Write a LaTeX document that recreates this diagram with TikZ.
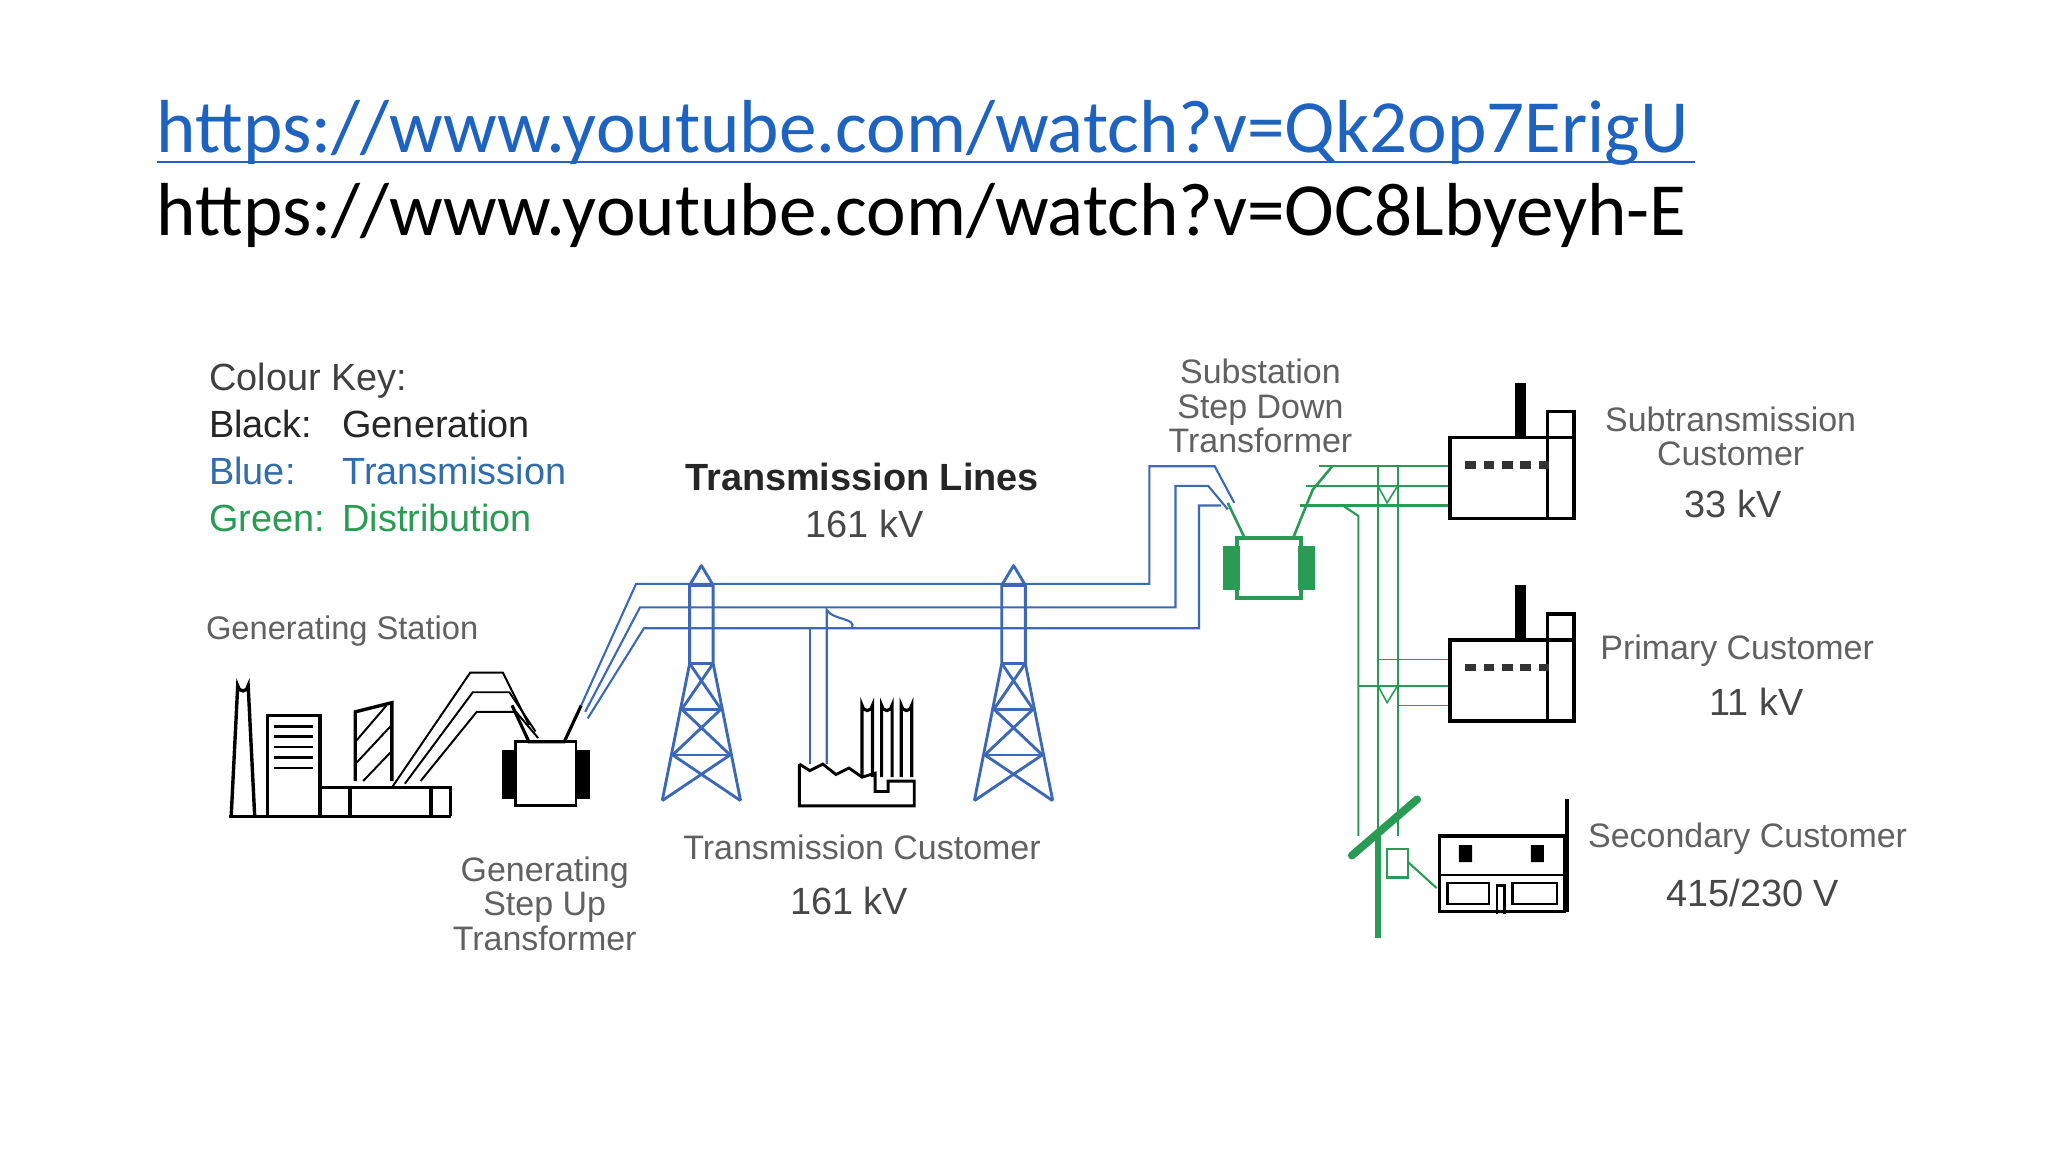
\documentclass[tikz,border=0pt]{standalone}
\usepackage{fontspec}
\setmainfont{Carlito}
\newfontfamily\diag{Liberation Sans}
\begin{document}
\begin{tikzpicture}[x=1pt,y=-1pt,
  lbl/.style={font=\diag\fontsize{26}{26.5}\selectfont, text=black!62, align=center, inner sep=0pt},
  kv/.style={font=\diag\fontsize{29}{30}\selectfont, text=black!72, inner sep=0pt},
  bl/.style={draw=tblue, line width=2.2pt},
  gl/.style={draw=dgreen, line width=2.2pt},
  blk/.style={draw=black, line width=2.6pt},
  tower/.pic={
    \draw[bl, line join=round] (-30,180)--(-9,75)--(-9,15)--(0,0)--(9,15)--(9,75)--(30,180);
    \draw[bl] (-9,15)--(9,15) (-9,75)--(9,75) (-15,110)--(15,110) (-22,145)--(22,145);
    \draw[bl] (-9,75)--(15,110) (9,75)--(-15,110) (-15,110)--(22,145) (15,110)--(-22,145) (-22,145)--(30,180) (22,145)--(-30,180);
  },
  factory/.pic={
    \draw[blk, line join=miter] (0,0) rectangle (95,62);
    \draw[blk] (75,62)--(75,-20)--(95,-20)--(95,0);
    \fill[black] (50,-42) rectangle (58,0);
    \foreach \i in {0,1,2,3,4} \fill[black!80] (12+\i*14,18) rectangle (20+\i*14,24);
  }]
\definecolor{tblue}{HTML}{3D68B5}
\definecolor{dgreen}{HTML}{2A9B55}
\definecolor{lnk}{HTML}{1F63C0}
\useasboundingbox (0,0) rectangle (1568,882);
\fill[white] (0,0) rectangle (1568,882);
% titles
\node[anchor=base west, inner sep=0pt, text=lnk, font=\fontsize{57.5}{60}\selectfont] (t1) at (120,117) {https://www.youtube.com/watch?v=Qk2op7ErigU};
\draw[lnk, line width=1.6pt] (120,124) -- (1298,124);
\node[anchor=base west, inner sep=0pt, font=\fontsize{57.5}{60}\selectfont] (t2) at (120,180) {https://www.youtube.com/watch?v=OC8Lbyeyh-E};
% colour key
\begin{scope}[every node/.style={anchor=base west, inner sep=0pt, font=\diag\fontsize{29}{30}\selectfont}]
\node[text=black!75] (k0) at (160,299) {Colour Key:};
\node[text=black!85] (k1) at (160,335) {Black:};
\node[text=black!85] (k1b) at (262,335) {Generation};
\node[text=tblue!80!teal] (k2) at (160,371) {Blue:};
\node[text=tblue!80!teal] (k2b) at (262,371) {Transmission};
\node[text=dgreen] (k3) at (160,407) {Green:};
\node[text=dgreen] (k3b) at (262,407) {Distribution};
\end{scope}
\node[font=\diag\bfseries\fontsize{29}{30}\selectfont, text=black!85, inner sep=0pt] (tl) at (660,365) {Transmission Lines};
\node[kv] (tlv) at (662,401) {161 kV};
% labels
\node[lbl, font=\diag\fontsize{25}{26}\selectfont] (gs) at (262,483) {Generating Station};
\node[lbl] (gsu) at (417,692) {Generating\\Step Up\\Transformer};
\node[lbl] (tc) at (660,649) {Transmission Customer};
\node[kv] (tcv) at (650,690) {161 kV};
\node[lbl] (ss) at (965,311) {Substation\\Step Down\\Transformer};
\node[lbl] (sc) at (1325,334) {Subtransmission\\Customer};
\node[kv] (scv) at (1327,386) {33 kV};
\node[lbl] (pc) at (1330,498) {Primary Customer};
\node[kv] (pcv) at (1345,537) {11 kV};
\node[lbl] (sec) at (1338,642) {Secondary Customer};
\node[kv] (secv) at (1342,684) {415/230 V};
% generating station
\begin{scope}[line join=miter]
\draw[blk] (177,625)--(182,525) arc (180:0:4)--(195,625);
\draw[blk] (175,625)--(345,625);
\draw[blk] (205,625)--(205,548)--(245,548)--(245,625);
\foreach \yy in {556,564,572,580,588} \draw[black, line width=2pt] (210,\yy)--(240,\yy);
\draw[blk] (245,603)--(330,603)--(330,625);
\draw[blk] (268,603)--(268,625);
\draw[blk] (272,598)--(272,545)--(300,538)--(300,598);
\draw[black, line width=1.5pt] (272,585)--(300,555) (272,568)--(296,540) (278,598)--(300,575);
\draw[blk] (300,603)--(345,603)--(345,625);
% wires to step up transformer
\draw[black, line width=1.5pt] (300,603)--(360,515)--(385,515)--(405,555);
\draw[black, line width=1.5pt] (310,600)--(362,530)--(390,530)--(410,560);
\draw[black, line width=1.5pt] (322,598)--(365,545)--(395,545)--(412,565);
% step up transformer
\draw[black, line width=2.4pt] (392,540)--(405,568)--(432,568)--(445,540);
\draw[black, line width=2.2pt] (395,568) rectangle (441,617);
\fill[black] (384,574) rectangle (396,612);
\fill[black] (440,574) rectangle (452,612);
\end{scope}
% transmission lines (blue)
\draw[bl, line width=1.6pt] (445,540)--(487,447)--(880,447)--(880,357)--(930,357)--(945,385);
\draw[bl, line width=1.6pt] (448,545)--(490,465)--(900,465)--(900,372)--(925,372)--(940,390);
\draw[bl, line width=1.6pt] (450,550)--(493,481)--(918,481)--(918,387)--(935,387);
\pic at (537,433) {tower};
\pic at (776,433) {tower};
% transmission customer
\draw[bl, line width=1.6pt] (620,585)--(620,481);
\draw[bl, line width=1.6pt] (633,585)--(633,467) to[out=-60,in=60] (652,481);
\draw[black, line width=2.2pt, line join=miter] (612,585)--(612,617)--(700,617)--(700,598)--(680,598)--(680,606)--(670,606)--(670,592)--(660,595)--(650,588)--(640,593)--(630,585)--(620,590)--(612,585);
\foreach \xx in {660,675,690} \draw[black, line width=2.4pt] (\xx,595)--(\xx,540) arc (180:0:4)--(\xx+8,595);
% substation transformer (green)
\draw[gl, line width=2pt] (940,385)--(953,412)--(990,412)--(1005,375)--(1020,357);
\draw[gl, line width=3pt] (947,412) rectangle (996,458);
\fill[dgreen] (936,418) rectangle (949,452);
\fill[dgreen] (994,418) rectangle (1007,452);
% distribution lines
\draw[gl, line width=1.6pt] (1010,357)--(1110,357);
\draw[gl, line width=1.6pt] (1000,372)--(1110,372);
\draw[gl, line width=1.6pt] (995,387)--(1110,387);
\draw[gl, line width=1.6pt] (1028,387)--(1040,395)--(1040,640);
\draw[gl, line width=1.6pt] (1055,357)--(1055,715);
\draw[gl, line width=1.6pt] (1070,357)--(1070,640);
\draw[gl, line width=1.2pt] (1055,505)--(1110,505) (1040,525)--(1110,525) (1070,540)--(1110,540);
\draw[gl, line width=1.2pt] (1055,372)--(1062,385)--(1070,372) (1055,525)--(1062,538)--(1070,525);
% pole
\draw[dgreen, line width=6pt, line cap=round] (1035,655)--(1085,612);
\draw[dgreen, line width=4pt] (1055,640)--(1055,718);
\draw[gl, line width=2pt] (1062,650) rectangle (1078,672);
\draw[gl, line width=1.6pt] (1078,660)--(1100,680);
% customers
\pic at (1110,335) {factory};
\pic at (1110,490) {factory};
\draw[blk, line join=miter] (1102,640) rectangle (1198,698);
\draw[black, line width=3pt] (1200,612)--(1200,698);
\draw[black, line width=2pt] (1102,670)--(1198,670);
\draw[black, line width=2pt] (1108,676) rectangle (1140,692) (1158,676) rectangle (1192,692);
\draw[black, line width=2pt] (1146,700)--(1146,678)--(1152,678)--(1152,700);
\fill[black] (1117,647) rectangle (1127,660) (1172,647) rectangle (1182,660);
\end{tikzpicture}
\end{document}
